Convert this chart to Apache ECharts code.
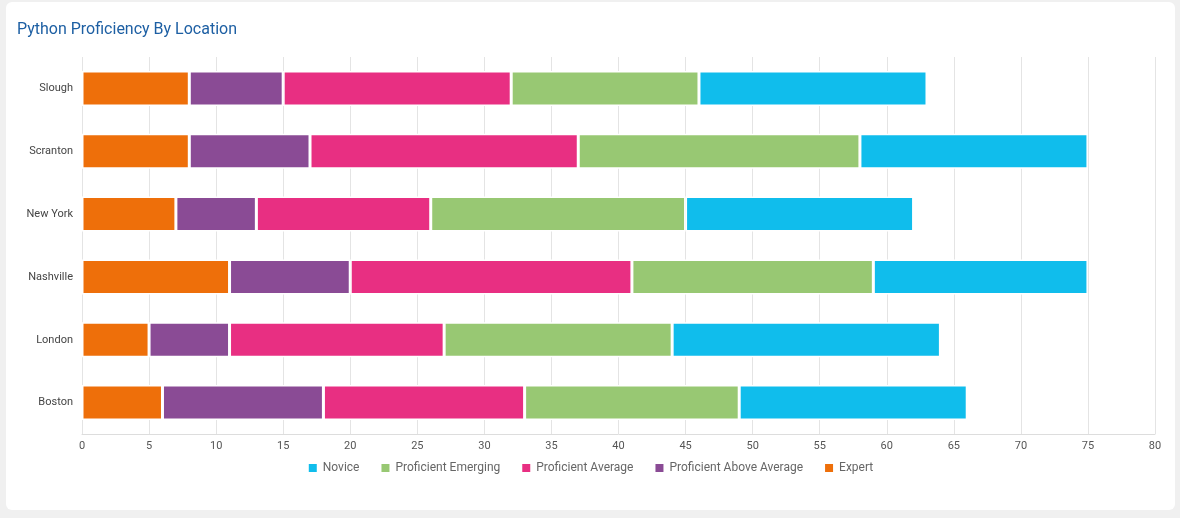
<!DOCTYPE html>
<html>
<head>
<meta charset="utf-8">
<script src="https://cdn.jsdelivr.net/npm/echarts@6/dist/echarts.min.js"></script>
<style>
html,body{margin:0;padding:0;width:1180px;height:518px;background:#f0f0f0;overflow:hidden;}
#card{position:absolute;left:6px;top:2px;width:1169px;height:508px;background:#fff;border-radius:6px;}
#chart{position:absolute;left:0;top:0;width:1180px;height:518px;}
</style>
</head>
<body>
<div id="card"></div>
<div id="chart"></div>
<script>
const locations = ['Boston', 'London', 'Nashville', 'New York', 'Scranton', 'Slough'];
const expert = [6, 5, 11, 7, 8, 8];
const aboveAverage = [12, 6, 9, 6, 9, 7];
const average = [15, 16, 21, 13, 20, 17];
const emerging = [16, 17, 18, 19, 21, 14];
const novice = [17, 20, 16, 17, 17, 17];
const xTicks = { min: 0, max: 80, interval: 5 };

const chart = echarts.init(document.getElementById('chart'), null, { renderer: 'canvas' });
const mk = (name, data, color) => ({
  name, type: 'bar', stack: 'total', data, barWidth: 35,
  itemStyle: { color, borderColor: '#fff', borderWidth: 1.5 },
  emphasis: { disabled: true }
});
chart.setOption({
  backgroundColor: 'transparent',
  textStyle: { fontFamily: 'Roboto' },
  title: {
    text: 'Python Proficiency By Location', left: 12, top: 17,
    textStyle: { color: '#1d5fa3', fontSize: 16, fontWeight: 'normal', fontFamily: 'Roboto' }
  },
  legend: {
    data: ['Novice', 'Proficient Emerging', 'Proficient Average', 'Proficient Above Average', 'Expert'],
    bottom: 39, left: 'center', itemWidth: 10, itemHeight: 10, itemGap: 20,
    icon: 'rect',
    textStyle: { color: '#666', fontSize: 12, fontFamily: 'Roboto' }
  },
  grid: { left: 82, right: 25, top: 57, bottom: 84, containLabel: false },
  xAxis: {
    type: 'value', min: xTicks.min, max: xTicks.max, interval: xTicks.interval,
    axisLine: { show: true, lineStyle: { color: '#ddd' } },
    axisTick: { show: false },
    splitLine: { show: true, lineStyle: { color: '#e4e4e4' } },
    axisLabel: { color: '#555', fontSize: 11, margin: 7 }
  },
  yAxis: {
    type: 'category', data: locations,
    axisLine: { show: false }, axisTick: { show: false },
    axisLabel: { color: '#444', fontSize: 11, margin: 9 }
  },
  series: [
    mk('Expert', expert, '#ee6f0a'),
    mk('Proficient Above Average', aboveAverage, '#8a4b95'),
    mk('Proficient Average', average, '#e82f82'),
    mk('Proficient Emerging', emerging, '#98c873'),
    mk('Novice', novice, '#10bdec')
  ]
});
</script>
</body>
</html>
